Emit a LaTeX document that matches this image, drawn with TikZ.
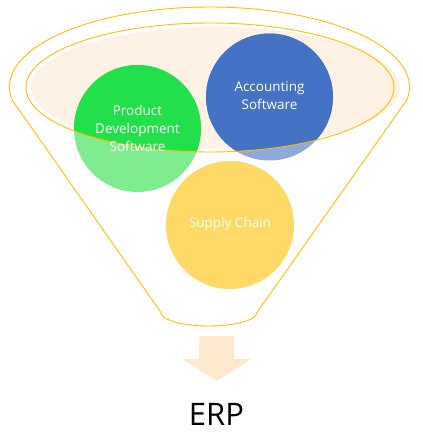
\documentclass[tikz,border=0pt]{standalone}
\usepackage{fontspec}
\setsansfont{Open Sans}
\definecolor{gold}{RGB}{255,192,0}
\definecolor{peach}{RGB}{253,242,227}
\definecolor{arrowpeach}{RGB}{255,233,206}
\definecolor{gvivid}{RGB}{34,224,74}
\definecolor{glight}{RGB}{126,236,143}
\definecolor{bvivid}{RGB}{68,114,196}
\definecolor{blight}{RGB}{142,169,219}
\definecolor{yfill}{RGB}{255,217,102}
\begin{document}
\begin{tikzpicture}[x=1pt,y=-1pt,
  outline/.style={draw=gold,line width=0.9pt},
  label/.style={circle,minimum size=127pt,inner sep=0pt,align=center,text=white,
    font=\sffamily\fontsize{13.5}{18}\selectfont}]
\useasboundingbox (0,0) rectangle (422,438);
% outer funnel
\draw[outline] (12.16,100) arc[start angle=170.65,end angle=369.35,x radius=200,y radius=80]
  -- (257,312.5) arc[start angle=0,end angle=180,x radius=48,y radius=13.5] -- cycle;
% inner ellipse fill
\fill[peach] (215.5,87.5) ellipse[x radius=184.5,y radius=60.5];
% light circles
\fill[glight] (137.5,128.5) circle[radius=63.5];
\fill[blight] (269.5,97) circle[radius=63.5];
% vivid parts inside ellipse
\begin{scope}
  \clip (210,87.5) ellipse[x radius=184,y radius=64.5];
  \fill[gvivid] (137.5,128.5) circle[radius=63.5];
  \fill[bvivid] (269.5,97) circle[radius=63.5];
\end{scope}
% inner ellipse outline
\draw[outline] (210,87.5) ellipse[x radius=184,y radius=64.5];
% supply chain circle
\fill[yfill] (230,225) circle[radius=64];
% texts
\node[label] (pd) at (137.5,128.5) {Product\\Development\\Software};
\node[label] (acc) at (269.5,96) {Accounting\\Software};
\node[label] (sc) at (230,224) {Supply Chain};
% arrow
\fill[arrowpeach] (199,336) -- (234,336) -- (234,359) -- (251,359) -- (217,381)
  -- (182,359) -- (199,359) -- cycle;
\node[font=\sffamily\fontsize{31}{36}\selectfont] (erp) at (216.5,414) {ERP};
\end{tikzpicture}
\end{document}
